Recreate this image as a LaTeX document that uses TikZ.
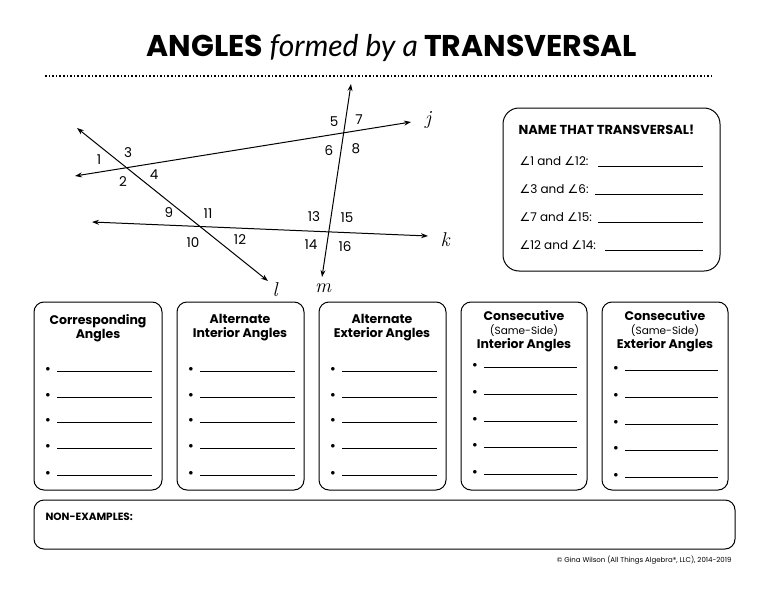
\documentclass[tikz,border=0pt]{standalone}
\usepackage{fontspec}
\setmainfont{Poppins}
\newfontfamily\djv{DejaVu Sans}
\newfontfamily\scr{Lato Italic}
\newfontfamily\lms{Latin Modern Roman}
\newcommand{\angsym}{{\djv\char"2220}}
\usetikzlibrary{arrows.meta}
\begin{document}
\begin{tikzpicture}[x=1pt,y=-1pt,
  ln/.style={line width=1pt,{Stealth[length=7pt,width=5pt]}-{Stealth[length=7pt,width=5pt]}},
  num/.style={font=\fontsize{13.5}{13.5}\selectfont},
  var/.style={font=\lms\itshape\fontsize{20}{20}\selectfont},
  card/.style={draw,line width=1pt,rounded corners=10pt},
  ttl/.style={font=\fontsize{12.5}{14}\bfseries\selectfont,align=center,anchor=north},
  bl/.style={font=\fontsize{9}{9}\selectfont}]
\useasboundingbox (0,0) rectangle (768,594);
\node (title) at (392,48) {\fontsize{30}{30}\selectfont\bfseries ANGLES {\scr\mdseries formed by a} TRANSVERSAL};
\draw[line width=1.6pt,dotted] (45,76) -- (712,76);
% lines
\coordinate (j1) at (75,176); \coordinate (j2) at (411,122);
\coordinate (l1) at (77,128); \coordinate (l2) at (268,281);
\coordinate (k1) at (92,222); \coordinate (k2) at (428,236);
\coordinate (m1) at (351,84); \coordinate (m2) at (322,277);
\draw[ln] (j1)--(j2); \draw[ln] (l1)--(l2); \draw[ln] (k1)--(k2); \draw[ln] (m1)--(m2);
\foreach \t/\x/\y in {1/99/160,3/128/153,2/123/182,4/154/175,9/169/213,11/208/214,10/193/243,12/240/240,13/314/217,15/347/218,14/311/245,16/345/247,5/334/122,7/359/120,6/329/151,8/356/149}
  \node[num] (n\t) at (\x,\y) {\t};
\node[var] (vj) at (428,120) {j};
\node[var] (vk) at (445,240) {k};
\node[var] (vl) at (275,290) {l};
\node[var] (vm) at (323,288) {m};
% right box
\draw[card,rounded corners=16pt] (503,108) rectangle (720,271);
\node[anchor=west,font=\fontsize{13}{13}\bfseries\selectfont] (nt) at (515,130) {NAME THAT TRANSVERSAL!};
\foreach \t/\y/\s in {{\angsym1 and \angsym12:}/161/598,{\angsym3 and \angsym6:}/189/595,{\angsym7 and \angsym15:}/217/598,{\angsym12 and \angsym14:}/245/605}{
  \node[anchor=west,font=\fontsize{12}{12}\selectfont] at (516,\y) {\t};
  \draw[line width=0.6pt] (\s,\y+5) -- (703,\y+5);}
% bottom boxes
\foreach \a/\b/\name in {34/162/b1,177/304/b2,319/446/b3,461/587/b4,602/728/b5}
  \draw[card] (\a,302) rectangle (\b,490);
\node[ttl] (t1) at (98,311) {Corresponding\\Angles};
\node[ttl] (t2) at (240,311) {Alternate\\Interior Angles};
\node[ttl] (t3) at (382,311) {Alternate\\Exterior Angles};
\node[ttl] (t4) at (524,307) {Consecutive\\{\mdseries\fontsize{10.5}{13}\selectfont (Same-Side)}\\Interior Angles};
\node[ttl] (t5) at (665,307) {Consecutive\\{\mdseries\fontsize{10.5}{13}\selectfont (Same-Side)}\\Exterior Angles};
\foreach \a in {34,177,319}
  \foreach \y in {371,397,422,448,475}{
    \node[bl] at (\a+14,\y-2) {$\bullet$};
    \draw[line width=0.6pt] (\a+23,\y) -- (\a+118,\y);}
\foreach \a/\d in {461/0,602/3}
  \foreach \y in {367,394,421,447,474}{
    \node[bl] at (\a+14,\y-2+\d) {$\bullet$};
    \draw[line width=0.6pt] (\a+23,\y+\d) -- (\a+116,\y+\d);}
\draw[card] (34,500) rectangle (735,549);
\node[anchor=west,font=\fontsize{10.5}{10}\bfseries\selectfont] (ne) at (42,517) {NON-EXAMPLES:};
\node[anchor=east,font=\fontsize{7}{7}\selectfont] (cp) at (735,560) {© Gina Wilson (All Things Algebra®, LLC), 2014-2019};
\end{tikzpicture}
\end{document}
